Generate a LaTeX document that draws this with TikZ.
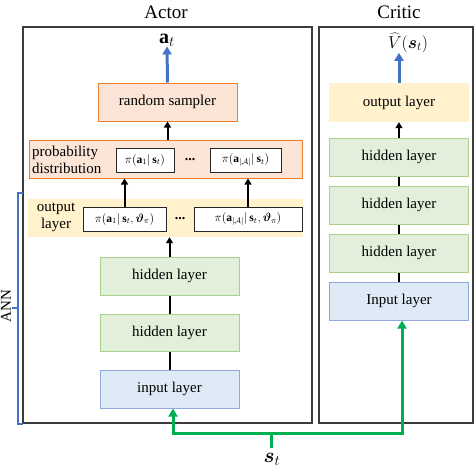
\documentclass[tikz,border=0pt]{standalone}
\usepackage{fontspec}
\setmainfont{Liberation Serif}
\usepackage{bm}
\usetikzlibrary{arrows.meta}
\definecolor{orfill}{RGB}{252,228,214}
\definecolor{ordraw}{RGB}{237,125,49}
\definecolor{yefill}{RGB}{255,242,204}
\definecolor{grfill}{RGB}{226,239,218}
\definecolor{grdraw}{RGB}{169,209,142}
\definecolor{blfill}{RGB}{222,235,247}
\definecolor{bldraw}{RGB}{143,170,220}
\definecolor{bluearr}{RGB}{68,114,196}
\definecolor{greenarr}{RGB}{0,176,80}
\definecolor{frame}{RGB}{60,60,60}
\tikzset{
  frm/.style={draw=frame,line width=1.2pt,inner sep=0pt},
  lay/.style={inner sep=0pt,font=\fontsize{15}{18}\selectfont,minimum width=139pt,minimum height=38pt},
  orbox/.style={lay,fill=orfill,draw=ordraw,line width=1pt},
  yebox/.style={lay,fill=yefill},
  grbox/.style={lay,fill=grfill,draw=grdraw,line width=1pt},
  blbox/.style={lay,fill=blfill,draw=bldraw,line width=1pt},
  pbox/.style={draw=black!85,fill=white,line width=0.9pt,inner sep=0pt,minimum height=24pt,font=\fontsize{11.5}{13}\selectfont},
  txt/.style={inner sep=0pt,font=\fontsize{15}{17}\selectfont},
  dts/.style={inner sep=0pt,font=\fontsize{14}{16}\selectfont\bfseries},
  blk/.style={line width=2pt,-{Triangle[width=7pt,length=6pt]}},
  blkline/.style={line width=2pt},
  blu/.style={draw=bluearr,line width=3pt,-{Triangle[width=9pt,length=8pt]}},
  grn/.style={draw=greenarr,line width=3pt},
  grnarr/.style={grn,-{Triangle[width=9pt,length=8pt]}},
}
\begin{document}
\begin{tikzpicture}[x=1pt,y=-1pt]
\useasboundingbox (0,0) rectangle (474,474);
% frames
\node[frm,minimum width=289pt,minimum height=396pt] (actor) at (167.5,225) {};
\node[frm,minimum width=154pt,minimum height=396pt] (critic) at (396,225) {};
\node[txt,font=\fontsize{19}{20}\selectfont] (actortitle) at (166,12) {Actor};
\node[txt,font=\fontsize{19}{20}\selectfont] (critictitle) at (399,12) {Critic};
% actor
\node[inner sep=0pt,font=\fontsize{20}{22}\selectfont] (at) at (167,40) {$\mathbf{a}_t$};
\node[orbox] (sampler) at (167.5,102) {random sampler};
\node[orbox,minimum width=273pt] (probdist) at (165.5,159) {};
\node[txt,align=left,anchor=west] (pdtext) at (32,160) {probability\\distribution};
\node[pbox,minimum width=58pt] (pd1) at (145,160) {$\pi(\mathbf{a}_1|\,\mathbf{s}_t)$};
\node[pbox,minimum width=71pt] (pd2) at (245.5,160) {$\pi(\mathbf{a}_{|\mathcal{A}|}|\,\mathbf{s}_t)$};
\node[dts] (dots1) at (190,160) {...};
\node[yebox,minimum width=275pt] (outlayer) at (165.5,218) {};
\node[txt,align=center] (oltext) at (56,217) {output\\layer};
\node[pbox,minimum width=83pt] (ol1) at (124.5,219) {$\pi(\mathbf{a}_1|\,\mathbf{s}_t,\bm{\vartheta}_\pi)$};
\node[pbox,minimum width=108pt] (ol2) at (248,219) {$\pi(\mathbf{a}_{|\mathcal{A}|}|\,\mathbf{s}_t,\bm{\vartheta}_\pi)$};
\node[dts] (dots2) at (180,219) {...};
\node[grbox] (h1) at (169.5,276) {hidden layer};
\node[grbox,minimum height=37pt] (h2) at (169.5,332.5) {hidden layer};
\node[blbox] (inl) at (169.5,389) {input layer};
% critic
\node[inner sep=0pt,font=\fontsize{18}{20}\selectfont] (vhat) at (408,43) {$\widehat{V}(\bm{s}_t)$};
\node[yebox,minimum width=140pt,minimum height=39pt] (cout) at (399,102.5) {output layer};
\node[grbox] (ch1) at (399,157) {hidden layer};
\node[grbox] (ch2) at (399,205) {hidden layer};
\node[grbox] (ch3) at (399,253) {hidden layer};
\node[blbox] (cin) at (399,301) {Input layer};
% arrows actor
\draw[blu] (sampler.north) -- (at.south);
\draw[blk] (probdist.north -| sampler.south) -- (sampler.south);
\draw[blk] (ol1.north) -- (ol1.north |- probdist.south);
\draw[blk] (ol2.north) -- (ol2.north |- probdist.south);
\draw[blk] (h1.north) -- (outlayer.south -| h1.north);
\draw[blkline] (h1.south) -- (h2.north);
\draw[blkline] (h2.south) -- (inl.north);
% arrows critic
\draw[blu] (cout.north) -- (cout.north |- vhat.south);
\draw[blk] (ch1.north) -- (cout.south);
\draw[blkline] (ch1.south) -- (ch2.north);
\draw[blkline] (ch2.south) -- (ch3.north);
\draw[blkline] (ch3.south) -- (cin.north);
% state input
\node[inner sep=0pt,font=\fontsize{20}{22}\selectfont] (st) at (272,459) {$\bm{s}_t$};
\coordinate (j) at (271,433);
\coordinate (stemb) at (271,448);
\draw[grn] (stemb) -- (j);
\draw[grnarr] (j) -| ([xshift=3.5pt]inl.south);
\draw[grnarr] (j) -| ([xshift=3pt]cin.south);
% ANN bracket
\coordinate (bt) at (23,193);
\coordinate (bb) at (23,424);
\coordinate (bm) at (18,308);
\draw[draw=bluearr,line width=1.3pt] (bt) -- (18,193) -- (18,424) -- (bb);
\draw[draw=bluearr,line width=1.3pt] (bm) -- (12,308);
\node[txt,rotate=90] (ann) at (6,306) {ANN};
\end{tikzpicture}
\end{document}
